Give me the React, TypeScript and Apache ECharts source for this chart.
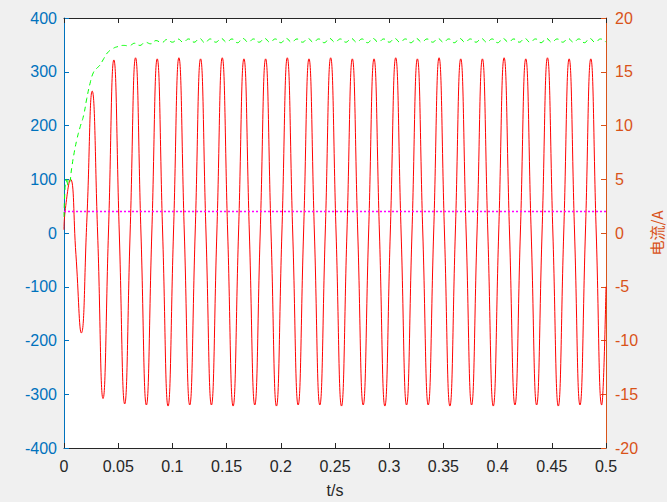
import React, { useEffect, useRef } from "react";
import * as echarts from "echarts";

// x axis (time, s)
const xMin = 0;
const xMax = 0.5;
const xInterval = 0.05;
const xTickLabels = ["0", "0.05", "0.1", "0.15", "0.2", "0.25", "0.3", "0.35", "0.4", "0.45", "0.5"];

// left axis (voltage)
const leftMin = -400;
const leftMax = 400;
const leftInterval = 100;

// right axis (current, A)
const rightMin = -20;
const rightMax = 20;
const rightInterval = 5;

// red current waveform (A): start value, samples every quarter period, end value
const redStartT = 0;
const redStartV = 0.3;
const redT0 = 0.001;
const redStep = 0.005;
const redValues = [
  2.0, 5.0, -2.0, -9.3, 1.0, 13.2, 0, -15.4, 0, 16.1, 0, -15.9,
  0, 16.3, 0, -16.0, 0, 16.2, 0, -16.1, 0, 16.3, 0, -16.0,
  0, 16.2, 0, -16.0, 0, 16.3, 0, -16.1, 0, 16.2, 0, -16.0,
  0, 16.2, 0, -16.1, 0, 16.3, 0, -16.0, 0, 16.2, 0, -16.0,
  0, 16.3, 0, -16.1, 0, 16.2, 0, -16.0, 0, 16.2, 0, -16.1,
  0, 16.3, 0, -16.0, 0, 16.2, 0, -16.0, 0, 16.3, 0, -16.1,
  0, 16.2, 0, -16.0, 0, 16.2, 0, -16.1, 0, 16.3, 0, -16.0,
  0, 16.2, 0, -16.0, 0, 16.3, 0, -16.1, 0, 16.2, 0, -16.0,
  0, 16.2, 0, -16.0,
];
const redEndT = 0.5;
const redEndV = -5.0;

// green DC voltage: transient (t, V) then steady samples
const greenTransientT = [0, 0.001, 0.002, 0.003, 0.004, 0.005, 0.007, 0.009, 0.012, 0.015, 0.018, 0.021, 0.024, 0.027, 0.03, 0.033, 0.036, 0.04, 0.045, 0.05, 0.055];
const greenTransientV = [30, 85, 100, 88, 100, 95, 120, 145, 175, 198, 218, 250, 278, 298, 306, 312, 322, 335, 343, 347, 349];
const greenSteadyT0 = 0.06;
const greenSteadyStep = 0.005;
const greenSteadyV = [
  348, 353, 349, 355, 352, 358, 354, 360, 355, 361,
  355, 361, 355, 362, 354, 361, 355, 362, 355, 361,
  354, 362, 355, 361, 355, 362, 355, 361, 354, 362,
  355, 361, 355, 362, 355, 361, 354, 362, 355, 361,
  355, 362, 355, 361, 354, 362, 355, 361, 355, 362,
  355, 361, 354, 362, 355, 361, 355, 362, 355, 361,
  354, 362, 355, 361, 355, 362, 355, 361, 354, 362,
  355, 361, 355, 362, 355, 361, 354, 362, 355, 361,
  355, 362, 355, 361, 354, 362, 355, 361, 355,
];

// magenta reference current (A)
const refT = [0, 0.5];
const refV = [2, 2];

const axisFont = "Liberation Sans, Arial, Helvetica, sans-serif";

export default function App() {
  const ref = useRef<HTMLDivElement>(null);
  useEffect(() => {
    if (!ref.current) return;
    const chart = echarts.init(ref.current, null, { renderer: "svg" });

    const redData: number[][] = [[redStartT, redStartV]];
    redValues.forEach((v, i) => redData.push([+(redT0 + i * redStep).toFixed(4), v]));
    redData.push([redEndT, redEndV]);

    const greenData: number[][] = greenTransientT.map((t, i) => [t, greenTransientV[i]]);
    greenSteadyV.forEach((v, i) => greenData.push([+(greenSteadyT0 + i * greenSteadyStep).toFixed(4), v]));

    const refData = refT.map((t, i) => [t, refV[i]]);

    const dark = "#262626";
    const blue = "#0072BD";
    const orange = "#D95319";

    chart.setOption({
      animation: false,
      backgroundColor: "#F0F0F0",
      grid: {
        left: 64,
        right: 61,
        top: 18,
        bottom: 54,
        show: true,
        backgroundColor: "#FFFFFF",
        borderWidth: 0,
        containLabel: false,
        outerBoundsMode: "none",
      },
      xAxis: [
        {
          type: "value",
          position: "bottom",
          min: xMin,
          max: xMax,
          interval: xInterval,
          name: "t/s",
          nameLocation: "middle",
          nameGap: 34,
          nameTextStyle: { color: dark, fontSize: 16, fontFamily: axisFont },
          axisLine: { show: true, onZero: false, lineStyle: { color: dark, width: 1 } },
          axisTick: { show: true, inside: true, length: 5, lineStyle: { color: dark } },
          axisLabel: {
            color: dark,
            fontSize: 16,
            fontFamily: axisFont,
            margin: 10,
            formatter: (v: number) => {
              const idx = Math.round((v - xMin) / xInterval);
              return xTickLabels[idx] ?? "";
            },
          },
          splitLine: { show: false },
        },
        {
          type: "value",
          position: "top",
          min: xMin,
          max: xMax,
          interval: xInterval,
          axisLine: { show: true, onZero: false, lineStyle: { color: dark, width: 1 } },
          axisTick: { show: true, inside: true, length: 5, lineStyle: { color: dark } },
          axisLabel: { show: false },
          splitLine: { show: false },
        },
      ],
      yAxis: [
        {
          type: "value",
          position: "left",
          min: leftMin,
          max: leftMax,
          interval: leftInterval,
          axisLine: { show: true, onZero: false, lineStyle: { color: blue, width: 1 } },
          axisTick: { show: true, inside: true, length: 5, lineStyle: { color: blue } },
          axisLabel: { color: blue, fontSize: 16, fontFamily: axisFont, margin: 7 },
          splitLine: { show: false },
        },
        {
          type: "value",
          position: "right",
          min: rightMin,
          max: rightMax,
          interval: rightInterval,
          name: "电流/A",
          nameLocation: "middle",
          nameRotate: 90,
          nameGap: 38,
          nameTextStyle: { color: orange, fontSize: 15, fontFamily: "Noto Sans CJK SC, sans-serif" },
          axisLine: { show: true, onZero: false, lineStyle: { color: orange, width: 1 } },
          axisTick: { show: true, inside: true, length: 5, lineStyle: { color: orange } },
          axisLabel: { color: orange, fontSize: 16, fontFamily: axisFont, margin: 9 },
          splitLine: { show: false },
        },
      ],
      series: [
        {
          type: "line",
          xAxisIndex: 0,
          yAxisIndex: 1,
          data: redData,
          smooth: 0.5,
          showSymbol: false,
          lineStyle: { color: "#FF0000", width: 1 },
          itemStyle: { color: "#FF0000" },
        },
        {
          type: "line",
          xAxisIndex: 0,
          yAxisIndex: 0,
          data: greenData,
          smooth: 0.5,
          showSymbol: false,
          lineStyle: { color: "#00FF00", width: 1, type: [5, 4] },
          itemStyle: { color: "#00FF00" },
        },
        {
          type: "line",
          xAxisIndex: 0,
          yAxisIndex: 1,
          data: refData,
          showSymbol: false,
          lineStyle: { color: "#FF00FF", width: 1.5, type: [2, 2] },
          itemStyle: { color: "#FF00FF" },
        },
      ],
    });
    return () => chart.dispose();
  }, []);
  return (
    <div
      ref={ref}
      style={{ position: "fixed", left: 0, top: 0, width: 667, height: 502 }}
    />
  );
}
